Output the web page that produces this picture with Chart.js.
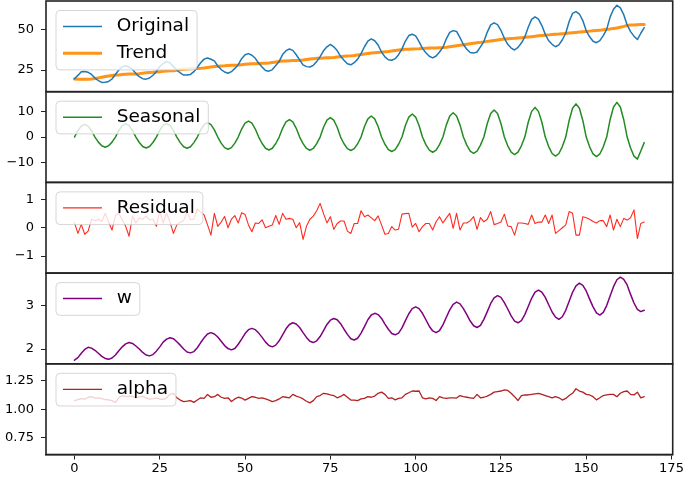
<!DOCTYPE html>
<html><head><meta charset="utf-8">
<script src="https://cdn.jsdelivr.net/npm/chart.js@4.4.0/dist/chart.umd.min.js"></script>
<style>
html,body{margin:0;padding:0;background:#fff;}
#wrap{position:relative;width:685px;height:480px;overflow:hidden;background:#fff;}
canvas{position:absolute;left:0;top:0;}
</style></head><body><div id="wrap">
<canvas id="c0" width="685" height="480"></canvas>
<canvas id="c1" width="685" height="480"></canvas>
<canvas id="c2" width="685" height="480"></canvas>
<canvas id="c3" width="685" height="480"></canvas>
<canvas id="c4" width="685" height="480"></canvas>
<canvas id="frame" width="685" height="480"></canvas>
</div>
<script>
// ---------------- data ----------------
const original = [
19.7,21.7,23.9,24.1,23.6,22.3,20.1,18.5,17.4,17.5,18.0,19.5,
22.3,25.1,27.0,27.7,26.7,25.5,22.8,21.0,19.7,19.4,20.1,21.8,
23.9,27.2,29.0,30.2,29.3,27.1,25.0,23.2,21.9,21.9,22.3,24.0,
26.7,29.5,31.7,32.4,31.6,30.6,27.5,25.3,23.8,23.0,24.0,26.0,
28.3,32.0,34.4,35.1,34.1,32.2,29.2,26.8,24.7,24.3,25.3,27.8,
30.3,34.5,36.9,37.9,37.1,34.4,31.2,28.2,27.1,26.9,27.9,30.2,
33.2,36.8,39.3,40.7,39.3,37.0,33.4,31.0,28.9,28.2,29.5,31.7,
35.1,39.3,42.7,44.1,43.0,40.4,36.1,33.1,31.3,31.0,32.0,34.4,
38.0,42.8,46.2,47.0,46.0,42.5,38.3,35.6,33.5,32.5,33.6,36.1,
39.0,44.2,48.1,49.2,48.7,44.9,40.7,37.8,35.8,35.4,36.1,39.2,
42.5,48.3,52.7,54.0,52.9,49.4,44.5,40.8,38.5,37.3,38.9,41.6,
45.3,51.3,56.1,57.6,56.3,52.3,46.9,43.0,40.8,39.3,40.5,43.6,
47.6,54.8,59.8,60.9,59.4,55.4,49.1,45.4,42.7,41.8,43.1,46.1,
50.0,57.5,62.3,64.8,63.2,59.0,52.7,48.6,45.8,43.7,47.6,51.0];

const trend = [
19.5,19.4,19.4,19.3,19.4,19.5,19.8,20.2,20.6,21.0,
21.3,21.6,21.9,22.0,22.2,22.4,22.5,22.5,22.6,22.8,
23.1,23.3,23.5,23.6,23.8,24.0,24.2,24.4,24.5,24.6,
24.9,25.2,25.5,25.7,25.8,25.9,26.0,26.1,26.3,26.6,
26.9,27.2,27.4,27.5,27.6,27.8,27.9,28.0,28.1,28.3,
28.5,28.7,28.8,28.9,29.0,29.1,29.1,29.3,29.6,29.9,
30.2,30.5,30.6,30.7,30.8,30.9,31.0,31.2,31.5,31.8,
32.0,32.2,32.3,32.4,32.5,32.6,32.7,33.0,33.2,33.4,
33.6,33.7,33.9,34.2,34.5,34.8,35.1,35.4,35.6,35.8,
36.0,36.2,36.4,36.7,37.0,37.3,37.5,37.7,37.8,37.9,
38.0,38.1,38.3,38.4,38.5,38.6,38.6,38.7,38.8,39.0,
39.3,39.6,39.9,40.2,40.5,40.8,41.1,41.4,41.7,42.0,
42.3,42.6,42.9,43.2,43.5,43.8,44.0,44.2,44.4,44.5,
44.7,44.9,45.1,45.3,45.5,45.7,46.0,46.2,46.4,46.6,
46.8,47.0,47.1,47.3,47.5,47.7,47.9,48.1,48.3,48.5,
48.7,48.9,49.1,49.3,49.5,49.7,50.0,50.2,50.5,50.8,
51.3,51.8,52.4,52.6,52.7,52.8,52.9,53.0];

const seasonal = [
0,2.5,4.33,5.0,4.33,2.5,0,-2.0,-3.46,-4.0,-3.46,-2.0,
0,2.6,4.5,5.2,4.5,2.6,0,-2.15,-3.72,-4.3,-3.72,-2.15,
0,2.65,4.59,5.3,4.59,2.65,0,-2.2,-3.81,-4.4,-3.81,-2.2,
0,2.85,4.94,5.7,4.94,2.85,0,-2.4,-4.16,-4.8,-4.16,-2.4,
0,3.15,5.46,6.3,5.46,3.15,0,-2.55,-4.42,-5.1,-4.42,-2.55,
0,3.45,5.98,6.9,5.98,3.45,0,-2.6,-4.5,-5.2,-4.5,-2.6,
0,3.85,6.67,7.7,6.67,3.85,0,-2.65,-4.59,-5.3,-4.59,-2.65,
0,4.15,7.19,8.3,7.19,4.15,0,-2.85,-4.94,-5.7,-4.94,-2.85,
0,4.55,7.88,9.1,7.88,4.55,0,-3.0,-5.2,-6.0,-5.2,-3.0,
0,4.8,8.31,9.6,8.31,4.8,0,-3.2,-5.54,-6.4,-5.54,-3.2,
0,5.35,9.27,10.7,9.27,5.35,0,-3.45,-5.98,-6.9,-5.98,-3.45,
0,5.85,10.13,11.7,10.13,5.85,0,-3.75,-6.5,-7.5,-6.5,-3.75,
0,6.55,11.34,13.1,11.34,6.55,0,-3.85,-6.67,-7.7,-6.67,-3.85,
0,6.85,11.86,13.7,11.86,6.85,0,-4.35,-7.53,-8.7,-5.5,-2.2];

const residual = [
0.18,-0.2,0.12,-0.23,-0.12,0.3,0.25,0.3,0.22,0.51,
0.2,-0.08,0.43,0.51,0.28,0.05,-0.3,0.41,0.17,0.35,
0.3,0.41,0.28,0.3,0.05,0.57,0.17,0.51,0.2,-0.2,
0.1,0.2,0.25,0.57,0.28,0.3,0.66,0.55,0.45,0.1,
-0.26,0.51,0.05,0.2,0.4,0.0,0.3,0.43,0.17,0.53,
0.47,0.1,-0.14,0.17,0.15,0.28,0.0,0.05,0.1,0.43,
0.12,0.51,0.3,0.33,0.3,0.0,0.18,-0.41,0.05,0.3,
0.41,0.6,0.86,0.5,0.17,0.39,-0.06,0.15,0.24,0.24,
-0.12,-0.2,0.15,0.15,0.6,0.39,0.45,0.35,0.25,0.42,
0.1,-0.23,-0.2,0.04,-0.08,-0.05,0.48,0.5,0.51,0.02,
0.15,-0.14,0.04,0.15,0.15,-0.08,0.21,0.39,0.17,0.35,
0.51,-0.02,0.51,-0.08,0.17,0.17,0.25,0.39,-0.06,0.36,
0.21,0.3,0.57,0.11,0.15,0.2,0.48,0.06,0.04,-0.26,
0.17,0.17,0.15,0.12,0.45,0.15,0.2,0.2,0.45,0.15,
0.45,-0.2,-0.1,0.0,0.1,0.57,0.51,-0.26,-0.26,0.39,
0.35,0.3,0.22,0.17,0.25,0.25,0.04,0.45,-0.08,0.3,
0.04,0.33,0.27,0.35,0.63,-0.38,0.15,0.2];

const w = [
1.74,1.80,1.90,1.99,2.04,2.02,1.97,1.90,1.83,1.78,1.76,1.79,
1.86,1.96,2.05,2.12,2.15,2.13,2.07,2.00,1.92,1.86,1.84,1.87,
1.95,2.05,2.16,2.23,2.26,2.24,2.17,2.09,2.00,1.93,1.91,1.94,
2.03,2.15,2.26,2.35,2.38,2.35,2.28,2.18,2.08,2.01,1.98,2.01,
2.11,2.23,2.36,2.45,2.48,2.45,2.37,2.27,2.16,2.08,2.05,2.09,
2.19,2.33,2.47,2.57,2.61,2.58,2.50,2.38,2.27,2.18,2.15,2.19,
2.29,2.43,2.57,2.67,2.71,2.68,2.59,2.46,2.34,2.24,2.21,2.25,
2.37,2.52,2.68,2.79,2.83,2.80,2.71,2.58,2.46,2.36,2.33,2.37,
2.49,2.66,2.82,2.94,2.98,2.94,2.83,2.68,2.53,2.42,2.38,2.43,
2.56,2.74,2.91,3.04,3.09,3.05,2.94,2.80,2.65,2.54,2.50,2.55,
2.69,2.87,3.06,3.19,3.24,3.20,3.08,2.93,2.77,2.65,2.61,2.66,
2.80,2.99,3.18,3.32,3.37,3.32,3.20,3.03,2.86,2.74,2.69,2.75,
2.90,3.11,3.32,3.47,3.53,3.48,3.35,3.16,2.98,2.84,2.79,2.85,
3.01,3.23,3.45,3.61,3.67,3.62,3.49,3.27,3.07,2.92,2.87,2.90];

const alpha = [
1.076,1.085,1.092,1.088,1.105,1.11,1.098,1.10,1.092,1.085,
1.082,1.075,1.06,1.10,1.12,1.11,1.115,1.112,1.10,1.108,
1.112,1.10,1.088,1.092,1.098,1.09,1.085,1.10,1.13,1.14,
1.10,1.08,1.067,1.07,1.075,1.06,1.08,1.10,1.095,1.13,
1.105,1.11,1.13,1.105,1.095,1.10,1.067,1.09,1.105,1.098,
1.08,1.095,1.11,1.105,1.095,1.10,1.09,1.08,1.067,1.075,
1.09,1.11,1.105,1.10,1.13,1.115,1.105,1.09,1.07,1.055,
1.075,1.11,1.12,1.14,1.135,1.125,1.12,1.10,1.112,1.13,
1.105,1.08,1.08,1.075,1.09,1.095,1.11,1.105,1.115,1.14,
1.15,1.13,1.095,1.10,1.082,1.095,1.10,1.13,1.145,1.16,
1.158,1.16,1.10,1.09,1.10,1.095,1.076,1.11,1.10,1.095,
1.10,1.10,1.098,1.12,1.11,1.105,1.10,1.095,1.13,1.10,
1.105,1.115,1.13,1.15,1.155,1.16,1.17,1.165,1.14,1.11,
1.076,1.12,1.125,1.125,1.13,1.135,1.14,1.13,1.12,1.11,
1.10,1.11,1.10,1.08,1.095,1.12,1.14,1.18,1.16,1.15,
1.13,1.125,1.11,1.082,1.10,1.12,1.125,1.13,1.13,1.11,
1.14,1.155,1.16,1.13,1.125,1.15,1.10,1.11];

const xTickValues = [0, 25, 50, 75, 100, 125, 150, 175];
const xTickLabels = ['0', '25', '50', '75', '100', '125', '150', '175'];
const yTicks1 = [25, 50];            const yLabels1 = ['25', '50'];
const yTicks2 = [-10, 0, 10];        const yLabels2 = ['\u221210', '0', '10'];
const yTicks3 = [-1, 0, 1];          const yLabels3 = ['\u22121', '0', '1'];
const yTicks4 = [2, 3];              const yLabels4 = ['2', '3'];
const yTicks5 = [0.75, 1.0, 1.25];   const yLabels5 = ['0.75', '1.00', '1.25'];

// ---------------- layout / style ----------------
const FONT = "'DejaVu Sans', 'Liberation Sans', sans-serif";
const AXIS_LEFT = 46, PAD_RIGHT = 12.3;
const tops = [1, 91.7, 182.4, 273.1, 363.8];
const bottoms = [91.7, 182.4, 273.1, 363.8, 454.5];
const XAXIS_H = 25.5;

const panels = [
  { yMin: 11.7, yMax: 67.4, ticks: yTicks1, labels: yLabels1,
    series: [ {label: 'Original', data: original, color: '#1f77b4', width: 1.5},
              {label: 'Trend', data: trend, color: '#ff9416', width: 3} ] },
  { yMin: -17.9, yMax: 17.9, ticks: yTicks2, labels: yLabels2,
    series: [ {label: 'Seasonal', data: seasonal, color: '#228b22', width: 1.5} ] },
  { yMin: -1.6, yMax: 1.6, ticks: yTicks3, labels: yLabels3,
    series: [ {label: 'Residual', data: residual, color: '#ff2a1f', width: 1.1} ] },
  { yMin: 1.656, yMax: 3.765, ticks: yTicks4, labels: yLabels4,
    series: [ {label: 'w', data: w, color: '#800080', width: 1.5} ] },
  { yMin: 0.6, yMax: 1.4, ticks: yTicks5, labels: yLabels5,
    series: [ {label: 'alpha', data: alpha, color: '#b22222', width: 1.3} ] }
];

const frameCtx = document.getElementById('frame').getContext('2d');

function plotBox(chart) {
  const xs = chart.scales.x, ys = chart.scales.y;
  return { left: xs.getPixelForValue(xs.min), right: xs.getPixelForValue(xs.max),
           top: ys.getPixelForValue(ys.max), bottom: ys.getPixelForValue(ys.min) };
}

function drawSpines(chart) {
  const a = plotBox(chart), ctx = frameCtx;
  ctx.save();
  ctx.strokeStyle = '#222';
  ctx.lineWidth = 1.6;
  ctx.strokeRect(a.left, a.top, a.right - a.left, a.bottom - a.top);
  ctx.restore();
}

function drawBoxLegend(chart, opts) {
  const items = opts.items; if (!items) return;
  const ctx = chart.ctx, a = plotBox(chart);
  ctx.save();
  ctx.font = opts.fontSize + 'px ' + FONT;
  let tw = 0;
  items.forEach(it => { tw = Math.max(tw, ctx.measureText(it.label).width); });
  const x0 = a.left + 10, y0 = a.top + 9.5;
  const bw = 60.7 + tw + 8, rowH = 26.7, bh = items.length * rowH + 6;
  const r = 4;
  ctx.beginPath();
  ctx.moveTo(x0 + r, y0);
  ctx.lineTo(x0 + bw - r, y0); ctx.arcTo(x0 + bw, y0, x0 + bw, y0 + r, r);
  ctx.lineTo(x0 + bw, y0 + bh - r); ctx.arcTo(x0 + bw, y0 + bh, x0 + bw - r, y0 + bh, r);
  ctx.lineTo(x0 + r, y0 + bh); ctx.arcTo(x0, y0 + bh, x0, y0 + bh - r, r);
  ctx.lineTo(x0, y0 + r); ctx.arcTo(x0, y0, x0 + r, y0, r);
  ctx.closePath();
  ctx.fillStyle = 'rgba(255,255,255,0.8)';
  ctx.fill();
  ctx.strokeStyle = 'rgba(204,204,204,0.8)';
  ctx.lineWidth = 1;
  ctx.stroke();
  items.forEach((it, i) => {
    const cy = y0 + 16 + i * rowH;
    ctx.beginPath();
    ctx.strokeStyle = it.color; ctx.lineWidth = it.width;
    ctx.moveTo(x0 + 7, cy); ctx.lineTo(x0 + 46, cy); ctx.stroke();
    ctx.fillStyle = '#000';
    ctx.textBaseline = 'middle'; ctx.textAlign = 'left';
    ctx.fillText(it.label, x0 + 60.7, cy);
  });
  ctx.restore();
}

const decorPlugin = {
  id: 'decor',
  afterDatasetsDraw(chart, args, opts) { drawBoxLegend(chart, opts); },
  afterDraw(chart) { drawSpines(chart); }
};

panels.forEach((p, i) => {
  const isLast = i === panels.length - 1;
  const datasets = p.series.map(s => ({
    label: s.label,
    data: s.data.map((v, k) => ({x: k, y: v})),
    borderColor: s.color, borderWidth: s.width,
    pointRadius: 0, tension: 0, fill: false,
    borderJoinStyle: 'round', borderCapStyle: 'round'
  }));
  new Chart(document.getElementById('c' + i), {
    type: 'line',
    data: { datasets },
    options: {
      responsive: false, animation: false, events: [],
      layout: { autoPadding: false,
        padding: { left: 0, right: PAD_RIGHT, top: tops[i],
                   bottom: 480 - bottoms[i] - (isLast ? XAXIS_H : 0) } },
      plugins: {
        legend: { display: false }, tooltip: { enabled: false },
        decor: { fontSize: 18.5,
          items: p.series.map(s => ({label: s.label, color: s.color, width: s.width})) }
      },
      scales: {
        x: {
          type: 'linear', min: -8.35, max: 175.35, display: isLast,
          afterBuildTicks: sc => { sc.ticks = xTickValues.map(v => ({value: v})); },
          afterFit: sc => { sc.height = isLast ? XAXIS_H : 0; sc.paddingLeft = 0; sc.paddingRight = 0; },
          grid: { drawOnChartArea: false, drawTicks: true, tickLength: 5, color: '#222', lineWidth: 1 },
          border: { display: isLast, color: '#222', width: 1.6 },
          ticks: { color: '#000', font: { family: FONT, size: 13 }, padding: 1, maxRotation: 0,
                   autoSkip: false, callback: (v, idx) => xTickLabels[idx] }
        },
        y: {
          type: 'linear', min: p.yMin, max: p.yMax, position: 'left',
          afterBuildTicks: sc => { sc.ticks = p.ticks.map(v => ({value: v})); },
          afterFit: sc => { sc.width = AXIS_LEFT; sc.paddingTop = 0; sc.paddingBottom = 0; },
          grid: { drawOnChartArea: false, drawTicks: true, tickLength: 5, color: '#222', lineWidth: 1 },
          border: { display: false },
          ticks: { color: '#000', font: { family: FONT, size: 13 }, padding: 7,
                   autoSkip: false, callback: (v, idx) => p.labels[idx] }
        }
      }
    },
    plugins: [decorPlugin]
  });
});
</script>
</body></html>
